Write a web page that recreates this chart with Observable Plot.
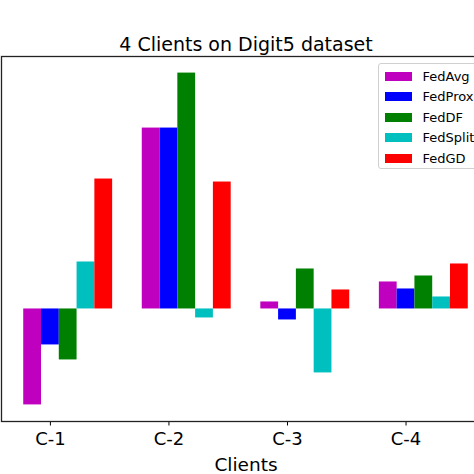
<!DOCTYPE html>
<html>
<head>
<meta charset="utf-8">
<script src="https://cdn.jsdelivr.net/npm/d3@7"></script>
<script src="https://cdn.jsdelivr.net/npm/@observablehq/plot@0.6"></script>
<style>
  html, body { margin: 0; padding: 0; background: #fff; overflow: hidden; }
  #wrap { position: relative; width: 474px; height: 474px; overflow: hidden; font-family: "DejaVu Sans", sans-serif; }
  #chart svg { max-width: none !important; width: 490px !important; height: 474px !important; }
  #legend { position: absolute; left: 378px; top: 63px; width: 130px; height: 106px; border: 1px solid #d0d0d0; border-radius: 3px; background: rgba(255,255,255,0.85); box-sizing: border-box; }
  .row { position: absolute; left: 0; height: 20px; display: flex; align-items: center; white-space: nowrap; font-size: 13px; color: #000; }
  .sw { width: 27px; height: 9px; margin-left: 5.5px; margin-right: 11px; }
</style>
</head>
<body>
<div id="wrap"><div id="chart"></div><div id="legend"></div></div>
<script>
const title = "4 Clients on Digit5 dataset";
const xLabel = "Clients";
const clients = ["C-1", "C-2", "C-3", "C-4"];
const series = ["FedAvg", "FedProx", "FedDF", "FedSplit", "FedGD"];
const colors = ["#bf00bf", "#0000ff", "#008000", "#00bfbf", "#ff0000"];
const fedAvg   = [-9.6, 18.1,  0.7, 2.7];
const fedProx  = [-3.6, 18.1, -1.1, 2.0];
const fedDF    = [-5.1, 23.6,  4.0, 3.3];
const fedSplit = [ 4.7, -0.9, -6.4, 1.2];
const fedGD    = [13.0, 12.7,  1.9, 4.5];

const values = [fedAvg, fedProx, fedDF, fedSplit, fedGD];
const barWidth = 0.15;
const data = [];
series.forEach((s, si) => clients.forEach((c, ci) => {
  data.push({series: s, si, client: c, ci, value: values[si][ci]});
}));

const center = d => d.ci + (d.si - 1) * barWidth;
const xMin = -1.5 * barWidth, xMax = clients.length - 1 + 3.5 * barWidth;
const xPad = (xMax - xMin) * 0.05;
const yMin = d3.min(data, d => d.value), yMax = d3.max(data, d => d.value);
const yPad = (yMax - yMin) * 0.05;

const chart = Plot.plot({
  width: 490,
  height: 474,
  marginLeft: 1,
  marginRight: 0,
  marginTop: 56,
  marginBottom: 53,
  style: {fontFamily: "DejaVu Sans, sans-serif", fontSize: "18px", color: "#000", background: "transparent", maxWidth: "none"},
  x: {domain: [xMin - xPad, xMax + xPad], ticks: d3.range(clients.length), tickFormat: i => clients[i], tickSize: 4.5, tickPadding: 6.5, label: null},
  y: {domain: [yMin - yPad, yMax + yPad], axis: null},
  color: {domain: series, range: colors},
  marks: [
    Plot.rectY(data, {x1: d => center(d) - barWidth / 2, x2: d => center(d) + barWidth / 2, y1: 0, y2: "value", fill: "series"}),
    Plot.frame({stroke: "#222", strokeWidth: 1.3}),
    Plot.text([title], {frameAnchor: "top", lineAnchor: "bottom", dy: -6, fontSize: 19, fill: "#000"}),
    Plot.text([xLabel], {frameAnchor: "bottom", lineAnchor: "bottom", dy: 49.5, fontSize: 18.5, fill: "#000"})
  ]
});
document.getElementById("chart").appendChild(chart);

const legend = d3.select("#legend");
series.forEach((s, i) => {
  const row = legend.append("div").attr("class", "row").style("top", (2.5 + i * 20.4) + "px");
  row.append("div").attr("class", "sw").style("background", colors[i]);
  row.append("span").text(s);
});
</script>
</body>
</html>
